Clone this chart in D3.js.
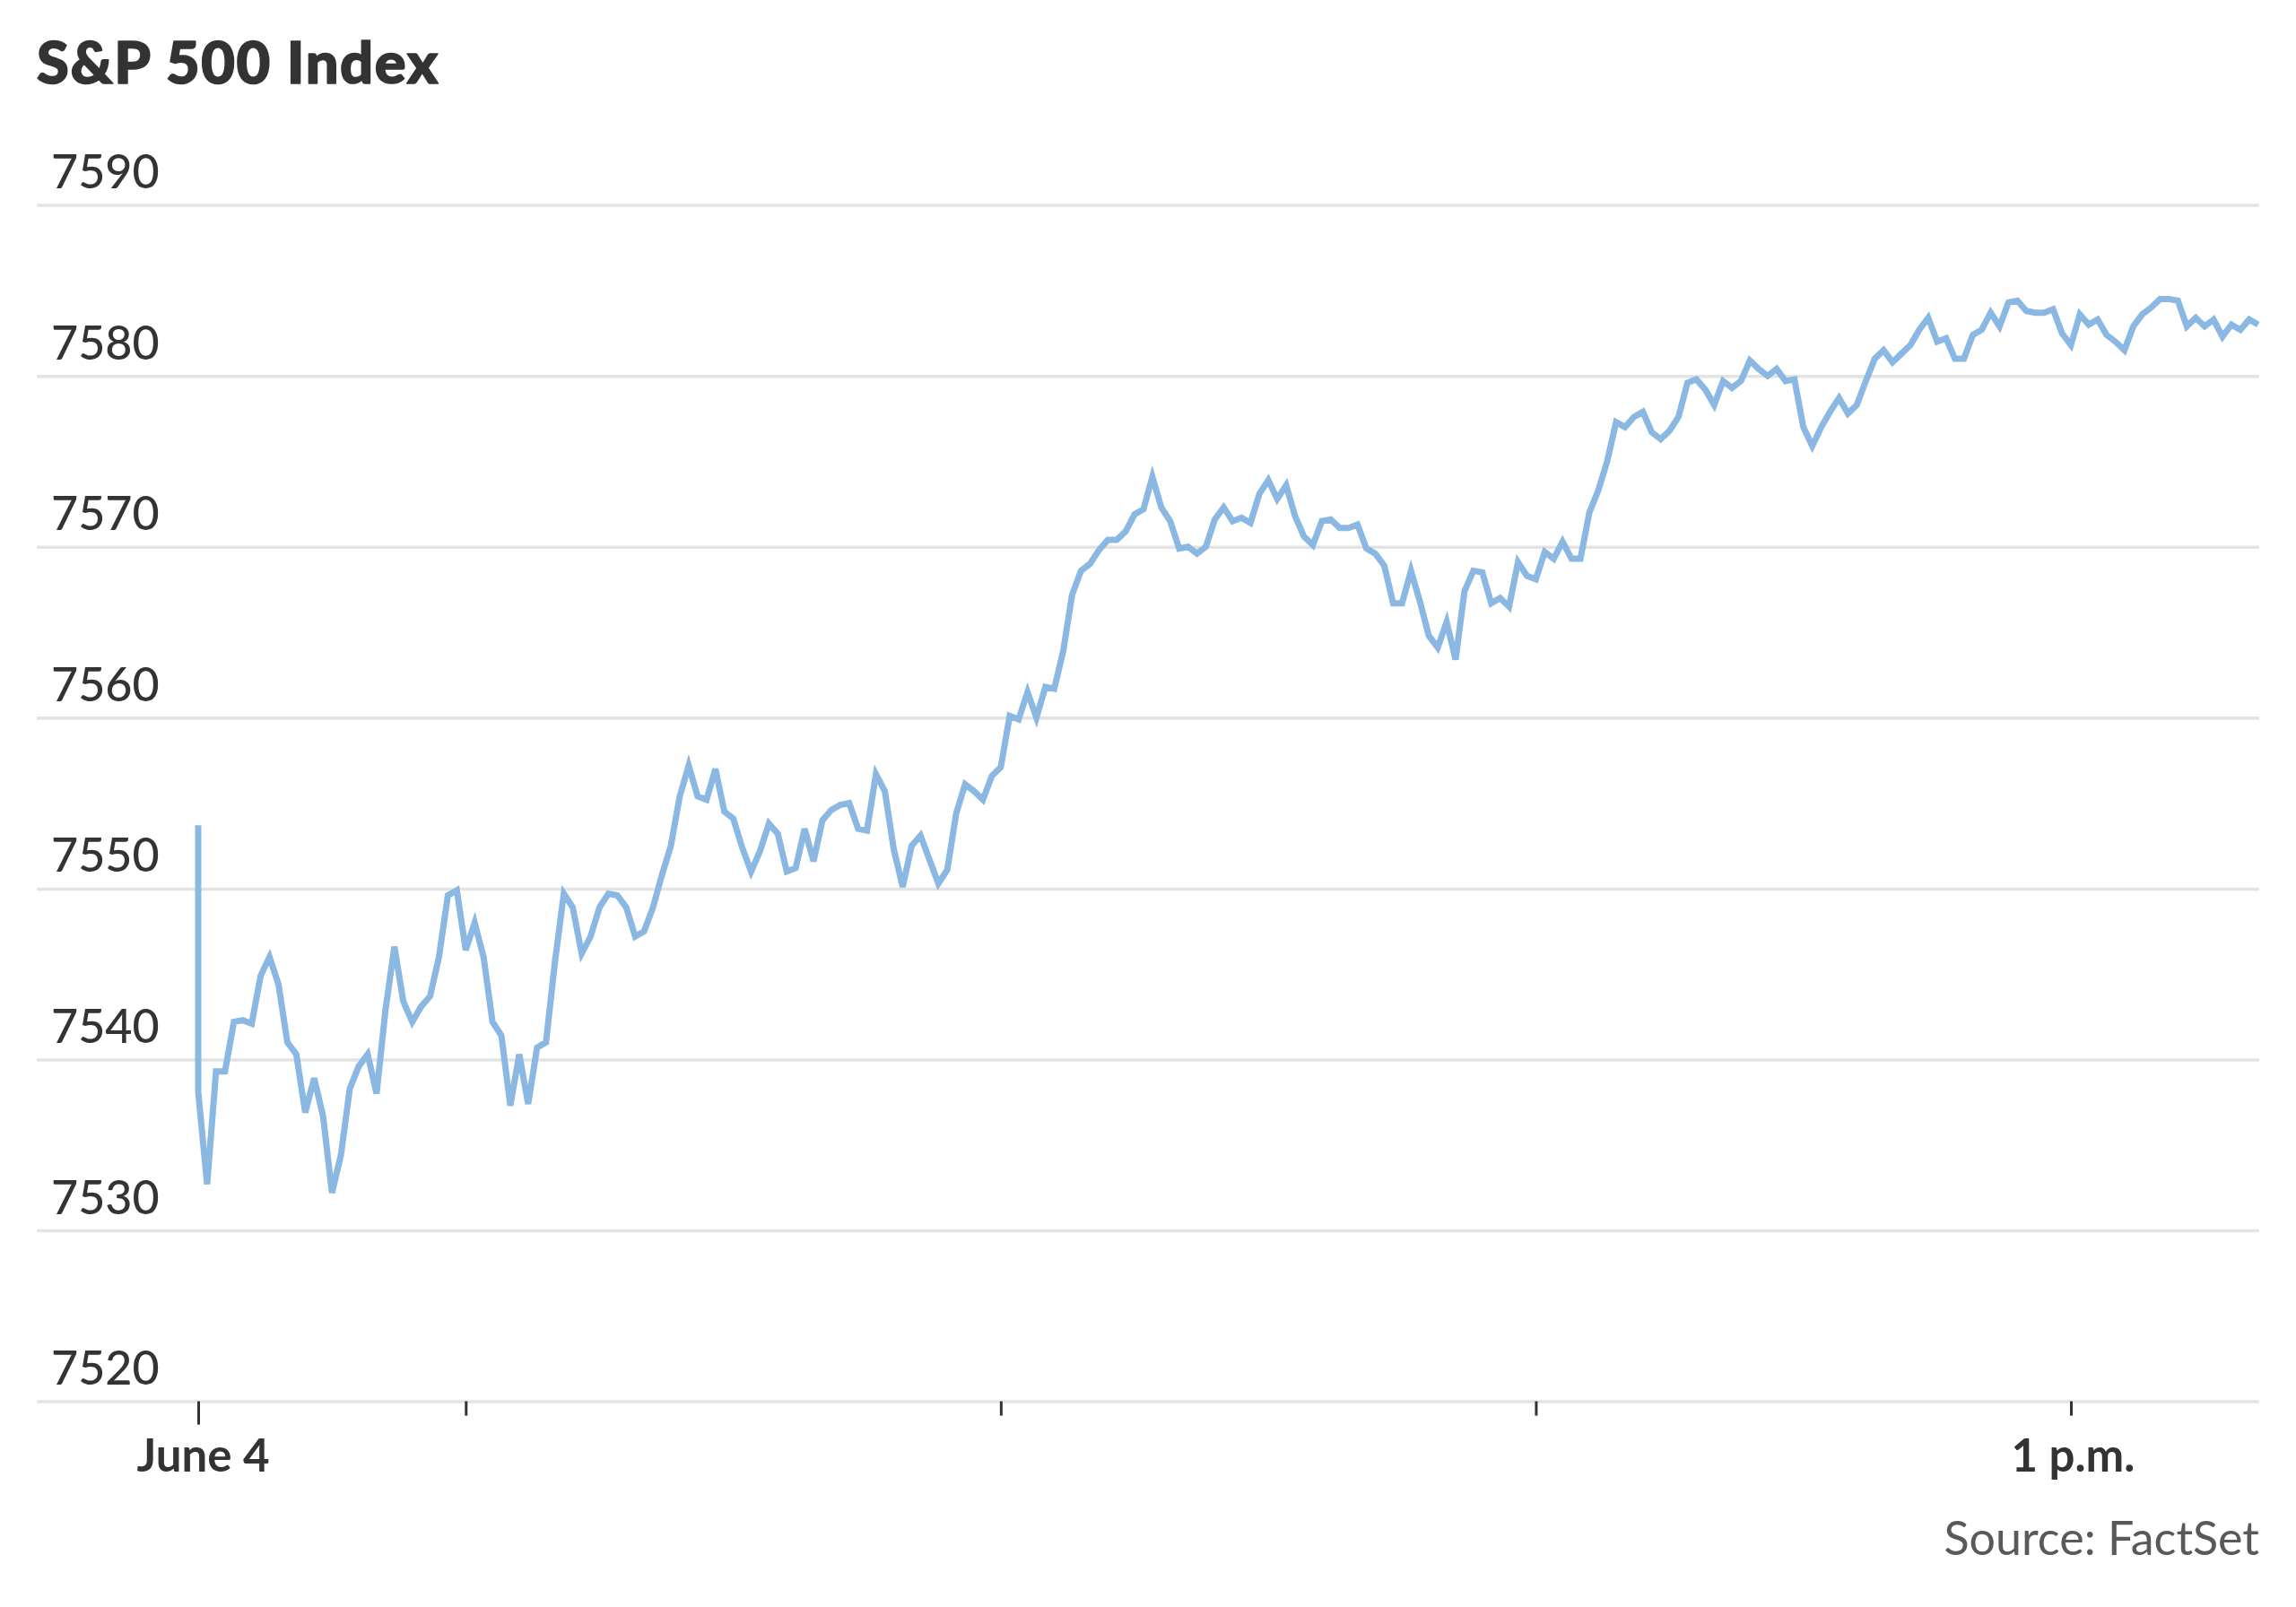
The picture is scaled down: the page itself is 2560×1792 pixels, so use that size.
<!DOCTYPE html>
<html lang="en">
<head>
    <meta charset="UTF-8">
    <title>S&amp;P 500 Index</title>
    <style>
        html, body {
            margin: 0;
            padding: 0;
            background: #fff;
        }
        body {
            font-family: Lato, "Open Sans", Arial, sans-serif;
        }
        .grid line {
            stroke: #e3e3e3;
            stroke-width: 3.5;
        }
        .grid text {
            fill: #333;
            font-size: 52px;
            font-weight: 500;
        }
        .x-axis text {
            fill: #333;
            font-size: 51px;
            font-weight: 700;
        }
        .x-axis line {
            stroke: #333;
            stroke-width: 3;
        }
    </style>
</head>
<body>
<script src="https://cdn.jsdelivr.net/npm/d3@7"></script>
<script>
    // minutes after 9:30 a.m. for the x ticks
    const tickMinutes = [0, 30, 90, 150, 210];
    const tickLabels = ["June 4", "", "", "", "1 p.m."];
    const yTicks = [7520, 7530, 7540, 7550, 7560, 7570, 7580, 7590];

    // first prints at the open (9:30)
    const openPrints = [7553.7, 7547.4];

    // one value per minute, from 9:30 a.m.
    const minuteValues = [
        7538.1, 7532.7, 7539.3, 7539.3, 7542.2, 7542.3, 7542.1, 7544.9, 7546.0, 7544.4,
        7541.0, 7540.3, 7536.9, 7538.9, 7536.7, 7532.2, 7534.4, 7538.3, 7539.6, 7540.3,
        7538.0, 7542.9, 7546.6, 7543.4, 7542.2, 7543.1, 7543.7, 7546.0, 7549.6, 7549.9,
        7546.4, 7548.0, 7546.0, 7542.2, 7541.4, 7537.3, 7540.3, 7537.4, 7540.7, 7541.0,
        7545.7, 7549.7, 7548.9, 7546.2, 7547.2, 7548.9, 7549.7, 7549.6, 7548.9, 7547.2,
        7547.5, 7548.9, 7550.8, 7552.5, 7555.4, 7557.2, 7555.4, 7555.2, 7557.0, 7554.5,
        7554.1, 7552.4, 7551.0, 7552.2, 7553.8, 7553.2, 7551.0, 7551.2, 7553.5, 7551.6,
        7554.0, 7554.6, 7554.9, 7555.0, 7553.5, 7553.4, 7556.7, 7555.7, 7552.3, 7550.1,
        7552.5, 7553.1, 7551.7, 7550.3, 7551.1, 7554.4, 7556.1, 7555.7, 7555.2, 7556.6,
        7557.1, 7560.1, 7559.9, 7561.5, 7560.0, 7561.8, 7561.7, 7563.9, 7567.2, 7568.6,
        7569.0, 7569.8, 7570.4, 7570.4, 7570.9, 7571.9, 7572.2, 7574.1, 7572.3, 7571.5,
        7569.9, 7570.0, 7569.6, 7570.0, 7571.6, 7572.3, 7571.5, 7571.7, 7571.4, 7573.1,
        7573.9, 7572.8, 7573.6, 7571.8, 7570.6, 7570.1, 7571.5, 7571.6, 7571.1, 7571.1,
        7571.3, 7569.9, 7569.6, 7568.9, 7566.7, 7566.7, 7568.6, 7566.8, 7564.8, 7564.1,
        7565.6, 7563.4, 7567.4, 7568.6, 7568.5, 7566.7, 7567.0, 7566.5, 7569.1, 7568.3,
        7568.1, 7569.7, 7569.3, 7570.3, 7569.3, 7569.3, 7572.0, 7573.3, 7575.0, 7577.3,
        7577.0, 7577.6, 7577.9, 7576.7, 7576.3, 7576.8, 7577.6, 7579.6, 7579.8, 7579.2,
        7578.3, 7579.7, 7579.3, 7579.7, 7580.9, 7580.4, 7580.0, 7580.4, 7579.7, 7579.8,
        7577.0, 7575.9, 7577.0, 7577.9, 7578.7, 7577.8, 7578.3, 7579.7, 7581.0, 7581.5,
        7580.8, 7581.3, 7581.8, 7582.7, 7583.4, 7582.0, 7582.2, 7581.0, 7581.0, 7582.4,
        7582.7, 7583.7, 7582.9, 7584.3, 7584.4, 7583.8, 7583.7, 7583.7, 7583.9, 7582.5,
        7581.8, 7583.6, 7583.0, 7583.3, 7582.4, 7582.0, 7581.5, 7582.9, 7583.6, 7584.0,
        7584.5, 7584.5, 7584.4, 7582.9, 7583.4, 7582.9, 7583.3, 7582.3, 7583.0, 7582.7,
        7583.3, 7583.0
    ];

    const width = 2560;
    const height = 1792;
    const plotLeft = 41;
    const plotRight = 2519;
    const fontFamily = "Lato, 'Open Sans', Arial, sans-serif";

    const points = openPrints.map(v => ({ t: 0, v: v }))
        .concat(minuteValues.map((v, i) => ({ t: i, v: v })));

    const svg = d3.select("body")
        .append("svg")
        .attr("width", width)
        .attr("height", height)
        .attr("font-family", fontFamily);

    svg.append("rect")
        .attr("width", width)
        .attr("height", height)
        .attr("fill", "#fff");

    const x = d3.scaleLinear()
        .domain([0, 210])
        .range([221, 2309]);

    const y = d3.scaleLinear()
        .domain([7520, 7590])
        .range([1562.6, 228.6]);

    // title (heavier than Lato Bold in the original, so a thin stroke is added)
    svg.append("text")
        .attr("x", 41)
        .attr("y", 93)
        .attr("fill", "#333")
        .attr("stroke", "#333")
        .attr("stroke-width", 1.6)
        .attr("stroke-linejoin", "round")
        .style("font-size", "65px")
        .style("font-weight", 900)
        .style("letter-spacing", "1.6px")
        .text("S&P 500 Index");

    // horizontal grid + labels
    const grid = svg.append("g")
        .attr("class", "grid")
        .attr("transform", "translate(" + plotLeft + ",0)")
        .call(d3.axisRight(y)
            .tickValues(yTicks)
            .tickSize(plotRight - plotLeft)
            .tickFormat(d3.format("d")))
        .attr("font-family", fontFamily);
    grid.select(".domain").remove();
    grid.selectAll("text")
        .attr("x", 16)
        .attr("dy", -19)
        .attr("text-anchor", "start");

    // x axis
    const xAxis = svg.append("g")
        .attr("class", "x-axis")
        .attr("transform", "translate(0," + y(7520) + ")")
        .call(d3.axisBottom(x)
            .tickValues(tickMinutes)
            .tickSize(16)
            .tickFormat((d, i) => tickLabels[i]))
        .attr("font-family", fontFamily);
    xAxis.select(".domain").remove();
    xAxis.selectAll(".tick line")
        .attr("y2", (d, i) => i === 0 ? 26 : 16);
    xAxis.selectAll(".tick text")
        .attr("x", (d, i) => i === 0 ? 5 : 2)
        .attr("y", 78)
        .attr("dy", 0);

    // line
    const line = d3.line()
        .x(d => x(d.t))
        .y(d => y(d.v));

    svg.append("path")
        .datum(points)
        .attr("fill", "none")
        .attr("stroke", "#8ab8e2")
        .attr("stroke-width", 7)
        .attr("d", line);

    // source
    svg.append("text")
        .attr("x", plotRight)
        .attr("y", 1734)
        .attr("text-anchor", "end")
        .attr("fill", "#595959")
        .style("font-size", "52px")
        .text("Source: FactSet");
</script>
</body>
</html>
